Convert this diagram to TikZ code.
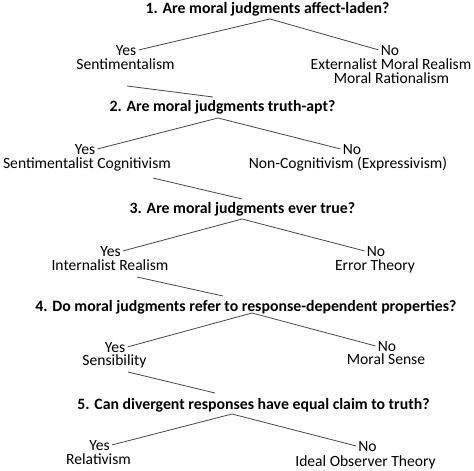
\documentclass[tikz,border=0pt]{standalone}
\usepackage{fontspec}
\setmainfont{Carlito}
\begin{document}
\begin{tikzpicture}[x=1pt,y=-1pt,
  txt/.style={anchor=base,inner sep=0pt,outer sep=0pt,font=\fontsize{15.6}{15.6}\selectfont},
  head/.style={anchor=base,inner sep=0pt,outer sep=0pt,font=\fontsize{15.8}{15.8}\selectfont\bfseries},
  link/.style={draw=black!72,line width=0.8pt},
  branch/.style={link,shorten <=2.5pt,shorten >=2.5pt}]
\useasboundingbox[fill=white] (0,0) rectangle (474,471);
% headings
\node[head] (h1) at (267.5,13) {1. Are moral judgments affect-laden?};
\node[head] (h2) at (222.5,111) {2. Are moral judgments truth-apt?};
\node[head] (h3) at (242.5,213) {3. Are moral judgments ever true?};
\node[head] (h4) at (246,311) {4. Do moral judgments refer to response-dependent properties?};
\node[head] (h5) at (253.5,409) {5. Can divergent responses have equal claim to truth?};
% answers
\node[txt] (y1) at (126,55.5) {Yes};
\node[txt] (s1) at (125.5,69) {Sentimentalism};
\node[txt] (n1) at (390,55.5) {No};
\node[txt] (e1) at (391,69) {Externalist Moral Realism};
\node[txt] (r1) at (391.5,83) {Moral Rationalism};
\node[txt] (y2) at (85,154.5) {Yes};
\node[txt] (s2) at (87,168) {Sentimentalist Cognitivism};
\node[txt] (n2) at (352,154.5) {No};
\node[txt] (e2) at (348,168) {Non-Cognitivism (Expressivism)};
\node[txt] (y3) at (110.5,256.5) {Yes};
\node[txt] (s3) at (110,270) {Internalist Realism};
\node[txt] (n3) at (376,256.5) {No};
\node[txt] (e3) at (375,270) {Error Theory};
\node[txt] (y4) at (115,352.5) {Yes};
\node[txt] (s4) at (114.5,365.5) {Sensibility};
\node[txt] (n4) at (387,351.5) {No};
\node[txt] (e4) at (386,364.5) {Moral Sense};
\node[txt] (y5) at (99.5,450.5) {Yes};
\node[txt] (s5) at (98.5,464) {Relativism};
\node[txt] (n5) at (367.5,451.5) {No};
\node[txt] (e5) at (365.5,466) {Ideal Observer Theory};
% connector points
\coordinate (a1) at (270,19);
\coordinate (a2) at (218,118);
\coordinate (a3) at (242,219);
\coordinate (a4) at (252,313);
\coordinate (a5) at (232,414);
\coordinate (c1s) at (127,86);  \coordinate (c1e) at (213,97);
\coordinate (c2s) at (153,178); \coordinate (c2e) at (242,199);
\coordinate (c3s) at (137,277); \coordinate (c3e) at (223,296);
\coordinate (c4s) at (128,372); \coordinate (c4e) at (215,393);
% branches
\draw[branch] (y1.east) -- (a1) -- (n1.west);
\draw[branch] (y2.east) -- (a2) -- (n2.west);
\draw[branch] (y3.east) -- (a3) -- (n3.west);
\draw[branch] (y4.east) -- (a4) -- (n4.west);
\draw[branch] (y5.east) -- (a5) -- (n5.west);
% links between stages
\draw[link] (c1s) -- (c1e);
\draw[link] (c2s) -- (c2e);
\draw[link] (c3s) -- (c3e);
\draw[link] (c4s) -- (c4e);
\end{tikzpicture}
\end{document}
